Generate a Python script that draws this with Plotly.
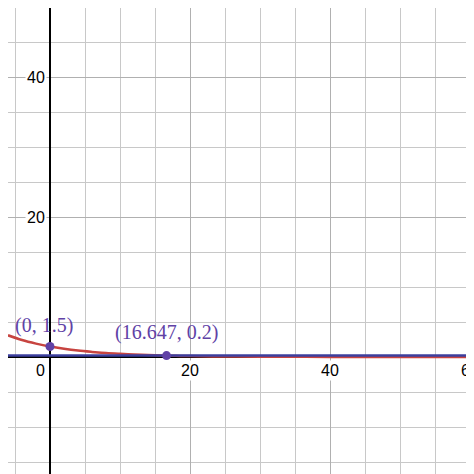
import plotly.graph_objects as go

curve_x = [-6, -4, -2, 0, 2, 4, 6, 8, 10, 12, 14, 16, 18, 20, 25, 30, 40, 50, 62]
curve_y = [3.1, 2.42, 1.91, 1.5, 1.18, 0.92, 0.73, 0.57, 0.45, 0.35, 0.28, 0.22, 0.17, 0.13, 0.07, 0.04, 0.01, 0.0, 0.0]
line_x = [-6, 62]
line_y = [0.2, 0.2]
pts_x = [0, 16.647]
pts_y = [1.5, 0.2]
pt_labels = ["(0, 1.5)", "(16.647, 0.2)"]
xticks = [20, 40, 60]
yticks = [20, 40]

fig = go.Figure()
fig.add_trace(go.Scatter(x=curve_x, y=curve_y, mode="lines", line=dict(color="#c74440", width=2.5, shape="spline")))
fig.add_trace(go.Scatter(x=line_x, y=line_y, mode="lines", line=dict(color="#3c3f9e", width=2.5)))
fig.add_trace(go.Scatter(x=pts_x, y=pts_y, mode="markers", marker=dict(color="#6042a6", size=9)))

fig.add_annotation(x=pts_x[0], y=pts_y[0], text=pt_labels[0], showarrow=False, xanchor="center", yanchor="bottom",
                   xshift=-6, yshift=8, font=dict(family="Liberation Serif", size=20, color="#6042a6"))
fig.add_annotation(x=pts_x[1], y=pts_y[1], text=pt_labels[1], showarrow=False, xanchor="center", yanchor="bottom",
                   yshift=10, font=dict(family="Liberation Serif", size=20, color="#6042a6"))
for t in xticks:
    fig.add_annotation(x=t, y=0, text=str(t), showarrow=False, yanchor="top", yshift=-3,
                       font=dict(family="Arial", size=16, color="black"), bgcolor="white")
for t in yticks:
    fig.add_annotation(x=0, y=t, text=str(t), showarrow=False, xanchor="right", xshift=-3,
                       font=dict(family="Arial", size=16, color="black"), bgcolor="white")
fig.add_annotation(x=0, y=0, text="0", showarrow=False, xanchor="right", yanchor="top", xshift=-3, yshift=-3,
                   font=dict(family="Arial", size=16, color="black"))

ax = dict(showticklabels=False, ticks="", zeroline=True, zerolinecolor="black", zerolinewidth=2,
          showgrid=True, gridcolor="#b0b0b0", gridwidth=1, dtick=20, tick0=0,
          minor=dict(dtick=5, showgrid=True, gridcolor="#c8c8c8", gridwidth=1), showline=False)
fig.update_layout(width=474, height=474, margin=dict(l=0, r=0, t=0, b=0, pad=0, autoexpand=False), showlegend=False,
                  plot_bgcolor="white", paper_bgcolor="white",
                  xaxis=dict(range=[-6, 61.714], **ax),
                  yaxis=dict(range=[-17.857, 49.857], **ax))
fig.write_html("out.html")
